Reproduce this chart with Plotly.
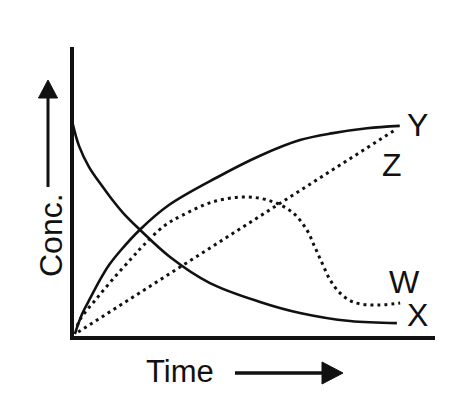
import plotly.graph_objects as go

# ---- data (time, concentration in arbitrary units) ----
x_time = [0.02, 0.19, 0.47, 0.85, 1.05, 1.45, 1.87, 2.70, 3.80, 5.18, 6.28, 7.66, 8.95]
x_conc = [7.35, 6.60, 5.86, 5.17, 4.83, 4.22, 3.70, 2.76, 1.86, 1.21, 0.83, 0.55, 0.48]

y_time = [0.08, 0.16, 0.29, 0.52, 0.74, 1.02, 1.35, 1.87, 2.67, 3.99, 5.18, 6.28, 7.19, 8.13, 9.03]
y_conc = [0.10, 0.41, 0.83, 1.38, 1.90, 2.48, 3.00, 3.70, 4.55, 5.50, 6.25, 6.79, 7.03, 7.20, 7.28]

z_time = [0.17, 8.90]
z_conc = [0.17, 7.14]

w_time = [0.14, 0.25, 0.66, 1.13, 1.63, 1.96, 2.56, 3.03, 3.88, 4.82, 5.54, 6.09, 6.47, 6.69,
          6.89, 7.11, 7.38, 7.74, 8.29, 9.04]
w_conc = [0.38, 0.66, 1.30, 2.00, 2.70, 3.15, 3.85, 4.19, 4.66, 4.83, 4.66, 4.28, 3.69, 3.10,
          2.55, 1.97, 1.52, 1.21, 1.10, 1.17]

series_names = ["X", "Y", "Z", "W"]
label_pos = {"Y": (9.52, 7.31), "Z": (8.82, 5.93), "W": (9.17, 1.90), "X": (9.53, 0.76)}

FONT = "Liberation Sans, Arial, Helvetica, sans-serif"
INK = "#111111"

# page body has an 8px margin; figure drawn inside it
OFF = 8
W_PX, H_PX = 474 - OFF, 414 - OFF
# plot area in reference-image pixels
PL, PR, PT, PB = 74, 435, 47, 336
# data scale: reference pixel of t=0 / c=0 and pixels per unit
X0, SX = 72.0, 36.3
Y0, SY = 337.0, 29.0


def px(xp, yp):
    return (xp - PL) / (PR - PL), (PB - yp) / (PB - PT)


fig = go.Figure()
solid = dict(color=INK, width=2.6, shape="spline", smoothing=1.0)
dotted = dict(color=INK, width=3, dash="3px,4px", shape="spline", smoothing=1.0)
fig.add_trace(go.Scatter(x=x_time, y=x_conc, mode="lines", line=solid, name="X"))
fig.add_trace(go.Scatter(x=y_time, y=y_conc, mode="lines", line=solid, name="Y"))
fig.add_trace(go.Scatter(x=z_time, y=z_conc, mode="lines",
                         line=dict(color=INK, width=3, dash="3px,4px"), name="Z"))
fig.add_trace(go.Scatter(x=w_time, y=w_conc, mode="lines", line=dotted, name="W"))

annotations = []
for n in series_names:
    lx, ly = label_pos[n]
    annotations.append(dict(x=lx, y=ly, xref="x", yref="y", text=n, showarrow=False,
                            xanchor="center", yanchor="middle",
                            font=dict(family=FONT, size=32, color=INK)))

tx, ty = px(180, 371)
annotations.append(dict(x=tx, y=ty, xref="paper", yref="paper", text="Time",
                        xanchor="center", yanchor="middle",
                        showarrow=False, font=dict(family=FONT, size=31, color=INK)))
cx, cy = px(51, 235)
annotations.append(dict(x=cx, y=cy, xref="paper", yref="paper", text="Conc.",
                        textangle=-90, showarrow=False,
                        xanchor="center", yanchor="middle",
                        font=dict(family=FONT, size=32, color=INK)))

shapes = []
# Time arrow
a0 = px(235, 373); a1 = px(326, 373)
shapes.append(dict(type="line", xref="paper", yref="paper", x0=a0[0], y0=a0[1],
                   x1=a1[0], y1=a1[1], line=dict(color=INK, width=3.5)))
p1 = px(343, 373); p2 = px(322, 362); p3 = px(322, 384)
shapes.append(dict(type="path", xref="paper", yref="paper",
                   path=f"M {p1[0]} {p1[1]} L {p2[0]} {p2[1]} L {p3[0]} {p3[1]} Z",
                   fillcolor=INK, line=dict(color=INK, width=1)))
# Conc arrow
b0 = px(48, 187); b1 = px(48, 95)
shapes.append(dict(type="line", xref="paper", yref="paper", x0=b0[0], y0=b0[1],
                   x1=b1[0], y1=b1[1], line=dict(color=INK, width=3)))
q1 = px(48, 80); q2 = px(38.5, 98); q3 = px(57.5, 98)
shapes.append(dict(type="path", xref="paper", yref="paper",
                   path=f"M {q1[0]} {q1[1]} L {q2[0]} {q2[1]} L {q3[0]} {q3[1]} Z",
                   fillcolor=INK, line=dict(color=INK, width=1)))

fig.update_layout(
    width=W_PX, height=H_PX,
    margin=dict(l=PL - OFF, r=W_PX - (PR - OFF), t=PT - OFF, b=H_PX - (PB - OFF), pad=0),
    paper_bgcolor="white", plot_bgcolor="white",
    showlegend=False,
    annotations=annotations,
    shapes=shapes,
    xaxis=dict(range=[(PL - X0) / SX, (PR - X0) / SX], showgrid=False, zeroline=False,
               showticklabels=False, ticks="", showline=True, linecolor=INK, linewidth=3.5),
    yaxis=dict(range=[(Y0 - PB) / SY, (Y0 - PT) / SY], showgrid=False, zeroline=False,
               showticklabels=False, ticks="", showline=True, linecolor=INK, linewidth=3.5),
)

fig.write_html("out.html")
